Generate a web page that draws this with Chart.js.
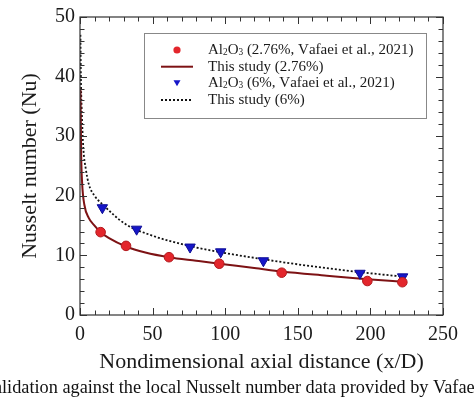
<!DOCTYPE html>
<html>
<head>
<meta charset="utf-8">
<script src="https://cdn.jsdelivr.net/npm/chart.js@4/dist/chart.umd.min.js"></script>
<style>
  html, body { margin: 0; padding: 0; background: #fff; }
  #wrap { width: 474px; height: 399px; }
</style>
</head>
<body>
<div id="wrap"><canvas id="nuChart" width="474" height="399"></canvas></div>
<script>
// Experimental points (Vafaei et al., 2021)
const expX276 = [14.2, 31.7, 61.3, 95.9, 138.9, 197.9, 222.0];
const expY276 = [13.9, 11.6, 9.7, 8.6, 7.1, 5.7, 5.5];
const expX6 = [15.4, 39.0, 75.8, 96.9, 126.3, 192.8, 222.2];
const expY6 = [18.0, 14.4, 11.4, 10.6, 9.1, 7.0, 6.4];

// Present study curves
const simX276 = [0.3, 0.8, 1.5, 3, 6, 10, 14.2, 20, 31.7, 45, 61.3, 80, 96, 120, 139, 170, 198, 224];
const simY276 = [38, 27, 22, 18.5, 16.3, 15, 13.9, 12.9, 11.5, 10.5, 9.7, 9.1, 8.6, 7.9, 7.3, 6.6, 6.0, 5.55];
const simX6 = [0.3, 0.6, 1.1, 2.3, 4, 6, 10, 15.4, 31, 50, 75, 100, 125, 150, 175, 200, 222];
const simY6 = [47, 40, 35, 28, 24.5, 22, 20, 18.6, 15.3, 13.3, 11.6, 10.4, 9.4, 8.5, 7.7, 7.0, 6.45];

const xTicks = [0, 50, 100, 150, 200, 250];
const yTicks = [0, 10, 20, 30, 40, 50];

const captionText = 'Validation against the local Nusselt number data provided by Vafaei';

function toPoints(xs, ys) {
    return xs.map((x, i) => ({ x: x, y: ys[i] }));
}

const serif = '"Liberation Serif", "Times New Roman", serif';

// inward ticks on all four sides + closed frame
const frameTicks = {
    id: 'frameTicks',
    afterDraw(chart) {
        const ctx = chart.ctx;
        const a = chart.chartArea;
        const xs = chart.scales.x, ys = chart.scales.y;
        ctx.save();
        ctx.strokeStyle = '#333';
        ctx.lineWidth = 1.2;
        ctx.strokeRect(a.left, a.top, a.right - a.left, a.bottom - a.top);
        ctx.lineWidth = 1;
        ctx.beginPath();
        for (let v = 0; v <= 250; v += 10) {
            const px = Math.round(xs.getPixelForValue(v)) + 0.5;
            const len = v % 50 === 0 ? 7 : 4.5;
            ctx.moveTo(px, a.bottom); ctx.lineTo(px, a.bottom - len);
            ctx.moveTo(px, a.top); ctx.lineTo(px, a.top + len);
        }
        for (let v = 0; v <= 50; v += 2) {
            const py = Math.round(ys.getPixelForValue(v)) + 0.5;
            const len = v % 10 === 0 ? 7 : 4.5;
            ctx.moveTo(a.left, py); ctx.lineTo(a.left + len, py);
            ctx.moveTo(a.right, py); ctx.lineTo(a.right - len, py);
        }
        ctx.stroke();
        ctx.restore();
    }
};

// text with small lowered digits for chemical formulas
function drawRich(ctx, text, x, y, size) {
    const subs = { '₂': '2', '₃': '3' };
    let cx = x;
    for (const ch of text) {
        if (subs[ch]) {
            ctx.font = (size * 0.62) + 'px ' + serif;
            ctx.fillText(subs[ch], cx, y + size * 0.18);
            cx += ctx.measureText(subs[ch]).width;
        } else {
            ctx.font = size + 'px ' + serif;
            ctx.fillText(ch, cx, y);
            cx += ctx.measureText(ch).width;
        }
    }
}

const boxLegend = {
    id: 'boxLegend',
    afterDraw(chart) {
        const ctx = chart.ctx;
        const order = [0, 1, 2, 3];
        const x0 = 144.5, y0 = 33.5, w = 282, h = 85;
        ctx.save();
        ctx.fillStyle = '#fff';
        ctx.fillRect(x0, y0, w, h);
        ctx.strokeStyle = '#888';
        ctx.lineWidth = 1;
        ctx.strokeRect(x0, y0, w, h);
        const rows = [50, 66.7, 83.3, 100];
        order.forEach((di, i) => {
            const ds = chart.data.datasets[di];
            const ry = rows[i];
            if (ds.showLine) {
                ctx.strokeStyle = ds.borderColor;
                ctx.lineWidth = ds.borderWidth;
                ctx.setLineDash(ds.borderDash || []);
                ctx.beginPath();
                ctx.moveTo(161, ry); ctx.lineTo(193, ry);
                ctx.stroke();
                ctx.setLineDash([]);
            } else {
                ctx.fillStyle = ds.backgroundColor;
                ctx.beginPath();
                if (ds.pointStyle === 'triangle') {
                    ctx.moveTo(173.5, ry - 3); ctx.lineTo(180.5, ry - 3); ctx.lineTo(177, ry + 3);
                    ctx.closePath();
                } else {
                    ctx.arc(177, ry, 3.6, 0, Math.PI * 2);
                }
                ctx.fill();
            }
            ctx.fillStyle = '#1a1a1a';
            ctx.textBaseline = 'middle';
            ctx.textAlign = 'left';
            drawRich(ctx, ds.label, 208, ry, 15);
        });
        ctx.restore();
    }
};

const caption = {
    id: 'caption',
    afterDraw(chart) {
        const ctx = chart.ctx;
        ctx.save();
        ctx.font = '18.3px ' + serif;
        ctx.fillStyle = '#111';
        ctx.textBaseline = 'middle';
        const skip = ctx.measureText('Va').width;
        ctx.fillText(captionText, 2 - skip, 388);
        ctx.restore();
    }
};

const ctx = document.getElementById('nuChart').getContext('2d');
const nuChart = new Chart(ctx, {
    type: 'scatter',
    data: {
        datasets: [
            {
                label: 'Al₂O₃ (2.76%, Vafaei et al., 2021)',
                data: toPoints(expX276, expY276),
                backgroundColor: '#e3262c',
                borderColor: '#b31a1e',
                borderWidth: 1,
                pointStyle: 'circle',
                pointRadius: 4.8,
                order: 1
            },
            {
                label: 'This study (2.76%)',
                data: toPoints(simX276, simY276),
                showLine: true,
                borderColor: '#7d1214',
                borderWidth: 2,
                pointRadius: 0,
                cubicInterpolationMode: 'monotone',
                order: 2
            },
            {
                label: 'Al₂O₃ (6%, Vafaei et al., 2021)',
                data: toPoints(expX6, expY6),
                backgroundColor: '#1616c8',
                borderColor: '#0d0d96',
                borderWidth: 1,
                pointStyle: 'triangle',
                pointRotation: 180,
                pointRadius: 6,
                order: 1
            },
            {
                label: 'This study (6%)',
                data: toPoints(simX6, simY6),
                showLine: true,
                borderColor: '#111',
                borderWidth: 1.8,
                borderDash: [2, 2],
                pointRadius: 0,
                cubicInterpolationMode: 'monotone',
                order: 3
            }
        ]
    },
    options: {
        responsive: false,
        animation: false,
        layout: {
            padding: { top: 16, right: 31, left: 0, bottom: 0 }
        },
        scales: {
            x: {
                type: 'linear',
                min: 0,
                max: 250,
                afterFit: s => { s.height = 84; },
                afterBuildTicks: s => { s.ticks = xTicks.map(v => ({ value: v })); },
                grid: { display: false, drawTicks: false },
                border: { display: false },
                ticks: {
                    padding: 8,
                    color: '#1a1a1a',
                    font: { family: serif, size: 20 }
                },
                title: {
                    display: true,
                    text: 'Nondimensional axial distance (x/D)',
                    color: '#1a1a1a',
                    font: { family: serif, size: 22 },
                    padding: { top: 0, bottom: 24 }
                }
            },
            y: {
                type: 'linear',
                min: 0,
                max: 50,
                afterFit: s => { s.width = 80; },
                afterBuildTicks: s => { s.ticks = yTicks.map(v => ({ value: v })); },
                grid: { display: false, drawTicks: false },
                border: { display: false },
                ticks: {
                    padding: 5,
                    color: '#1a1a1a',
                    font: { family: serif, size: 20 }
                },
                title: {
                    display: true,
                    text: 'Nusselt number (Nu)',
                    color: '#1a1a1a',
                    font: { family: serif, size: 22 },
                    padding: { top: 17, bottom: 0 }
                }
            }
        },
        plugins: {
            legend: { display: false },
            tooltip: { enabled: false }
        }
    },
    plugins: [frameTicks, boxLegend, caption]
});
</script>
</body>
</html>
